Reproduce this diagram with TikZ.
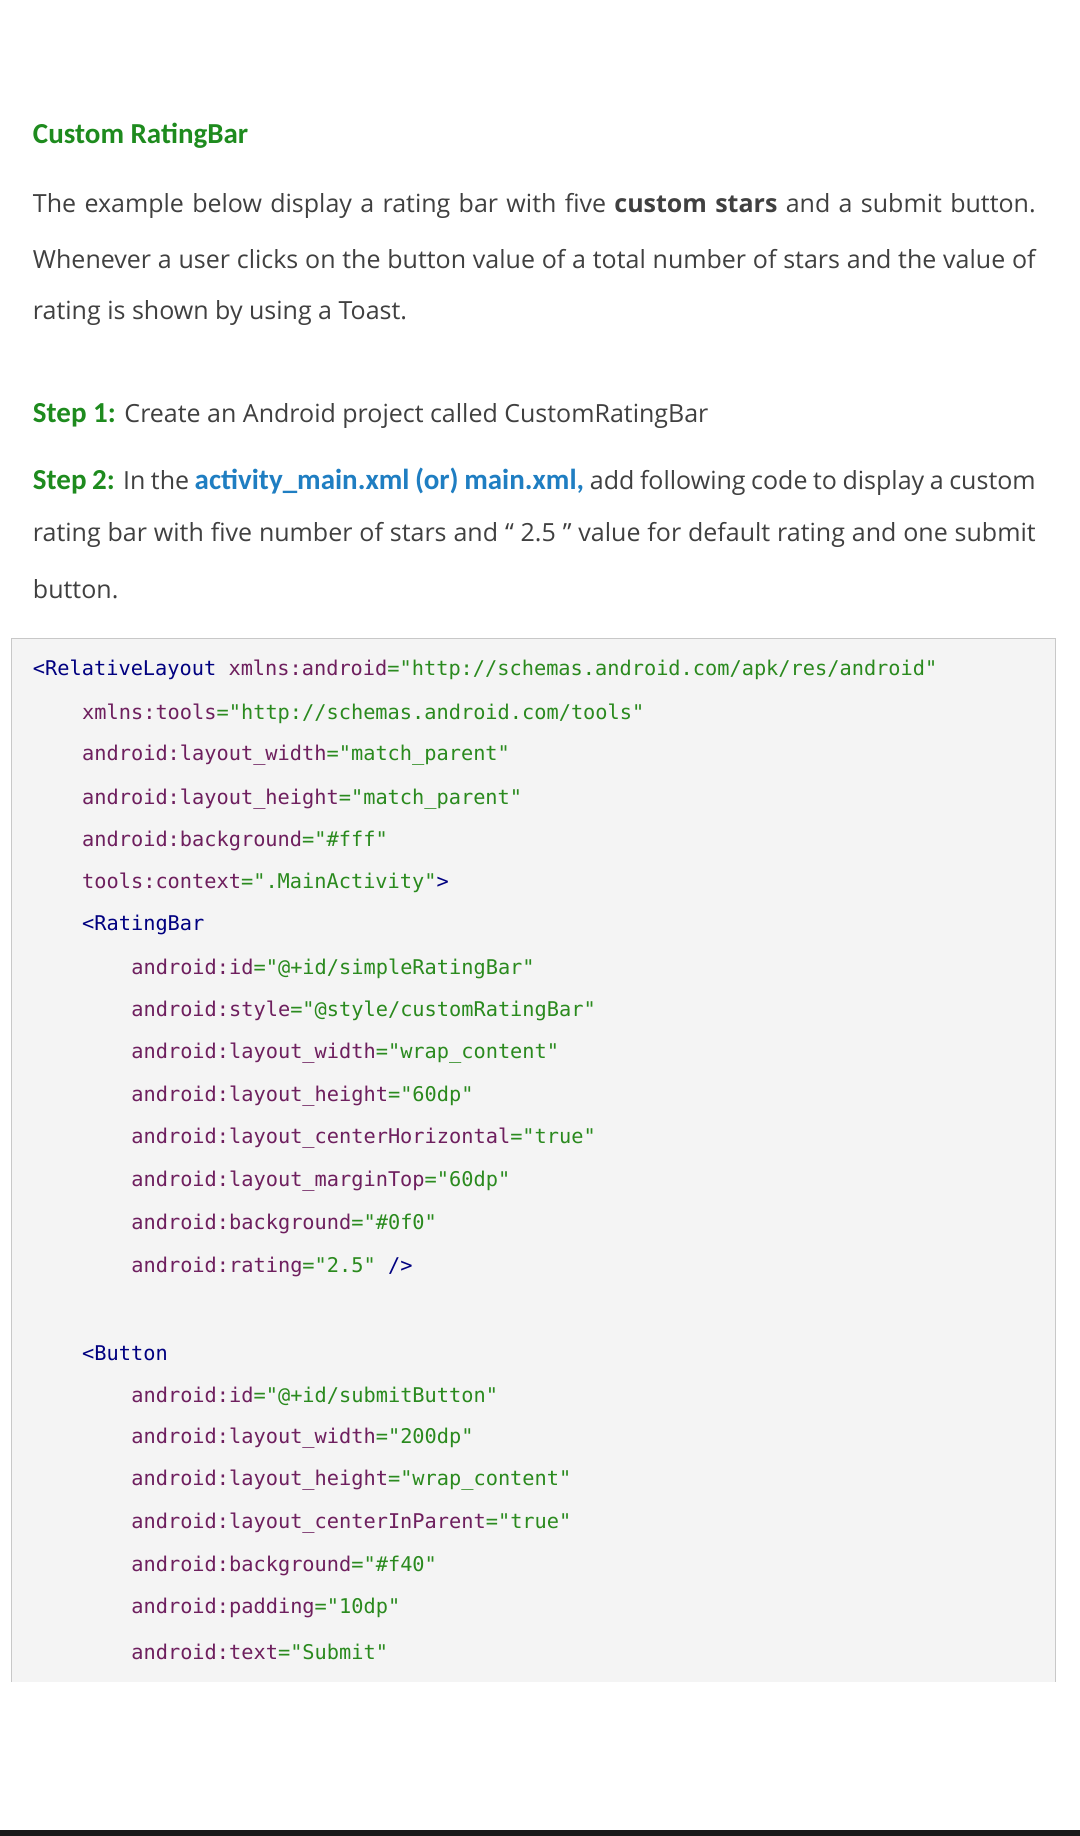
\documentclass[tikz,border=0pt]{standalone}
\usepackage{fontspec}
\setmainfont{Open Sans}
\newfontfamily\headf{Carlito}
\newfontfamily\codef{DejaVu Sans Mono}
\definecolor{bodyc}{HTML}{404040}
\definecolor{greenh}{HTML}{1E8B1E}
\definecolor{linkc}{HTML}{1F7EC2}
\definecolor{tagc}{HTML}{000080}
\definecolor{attc}{HTML}{6E1F5E}
\definecolor{valc}{HTML}{2A8A1E}
\definecolor{boxbg}{HTML}{F4F4F4}
\definecolor{boxln}{HTML}{C8C8C8}
\newcommand{\hd}[1]{{\headf\bfseries\fontsize{29}{29}\selectfont\color{greenh}#1}}
\newcommand{\tg}[1]{{\color{tagc}#1}}
\newcommand{\at}[2]{{\color{attc}#1}{\color{valc}="#2"}}
\newcommand{\jl}[1]{\makebox[1002.7pt][s]{#1}}
\tikzset{
 txt/.style={anchor=west,inner sep=0pt,text=bodyc,font=\fontsize{25}{25}\selectfont},
 code/.style={anchor=west,inner sep=0pt,font=\codef\fontsize{20.3}{20.3}\selectfont}
}
\begin{document}
\begin{tikzpicture}[x=1.1714pt,y=-1.1714pt]
\useasboundingbox (0,0) rectangle (922,1567.4);
\fill[white] (0,0) rectangle (922,1567.4);
\fill[black!90] (0,1562) rectangle (922,1567.4);
\fill[boxbg] (10,545) rectangle (901,1436);
\draw[boxln,line width=1.5pt] (10,1436) -- (10,545) -- (901,545) -- (901,1436);
\node[txt] (h) at (28,116) {\hd{Custom RatingBar}};
\node[txt] (p1) at (28,176) {\jl{The example below display a rating bar with five \textbf{custom stars} and a submit button.}};
\node[txt] (p2) at (28,221) {\jl{Whenever a user clicks on the button value of a total number of stars and the value of}};
\node[txt] (p3) at (28,267) {rating is shown by using a Toast.};
\node[txt] (s1) at (28,355) {\hd{Step 1:} Create an Android project called CustomRatingBar};
\node[txt] (s2) at (28,411) {\jl{\hd{Step 2:} In the {\headf\bfseries\fontsize{29}{29}\selectfont\color{linkc}activity\_main.xml (or) main.xml,} add following code to display a custom}};
\node[txt] (s3) at (28,457) {\jl{rating bar with five number of stars and “ 2.5 ” value for default rating and one submit}};
\node[txt] (s4) at (28,503) {button.};
\node[code] (c1) at (28,572) {\tg{<RelativeLayout} \at{xmlns:android}{http://schemas.android.com/apk/res/android}};
\node[code] (c2) at (70,609) {\at{xmlns:tools}{http://schemas.android.com/tools}};
\node[code] (c3) at (70,645) {\at{android:layout\_width}{match\_parent}};
\node[code] (c4) at (70,682) {\at{android:layout\_height}{match\_parent}};
\node[code] (c5) at (70,718) {\at{android:background}{\#fff}};
\node[code] (c6) at (70,754) {\at{tools:context}{.MainActivity}\tg{>}};
\node[code] (c7) at (70,790) {\tg{<RatingBar}};
\node[code] (c8) at (112,827) {\at{android:id}{@+id/simpleRatingBar}};
\node[code] (c9) at (112,863) {\at{android:style}{@style/customRatingBar}};
\node[code] (c10) at (112,899) {\at{android:layout\_width}{wrap\_content}};
\node[code] (c11) at (112,936) {\at{android:layout\_height}{60dp}};
\node[code] (c12) at (112,972) {\at{android:layout\_centerHorizontal}{true}};
\node[code] (c13) at (112,1008) {\at{android:layout\_marginTop}{60dp}};
\node[code] (c14) at (112,1045) {\at{android:background}{\#0f0}};
\node[code] (c15) at (112,1082) {\at{android:rating}{2.5} \tg{/>}};
\node[code] (c16) at (70,1155) {\tg{<Button}};
\node[code] (c17) at (112,1192) {\at{android:id}{@+id/submitButton}};
\node[code] (c18) at (112,1228) {\at{android:layout\_width}{200dp}};
\node[code] (c19) at (112,1264) {\at{android:layout\_height}{wrap\_content}};
\node[code] (c20) at (112,1300) {\at{android:layout\_centerInParent}{true}};
\node[code] (c21) at (112,1337) {\at{android:background}{\#f40}};
\node[code] (c22) at (112,1373) {\at{android:padding}{10dp}};
\node[code] (c23) at (112,1410) {\at{android:text}{Submit}};
\end{tikzpicture}
\end{document}
